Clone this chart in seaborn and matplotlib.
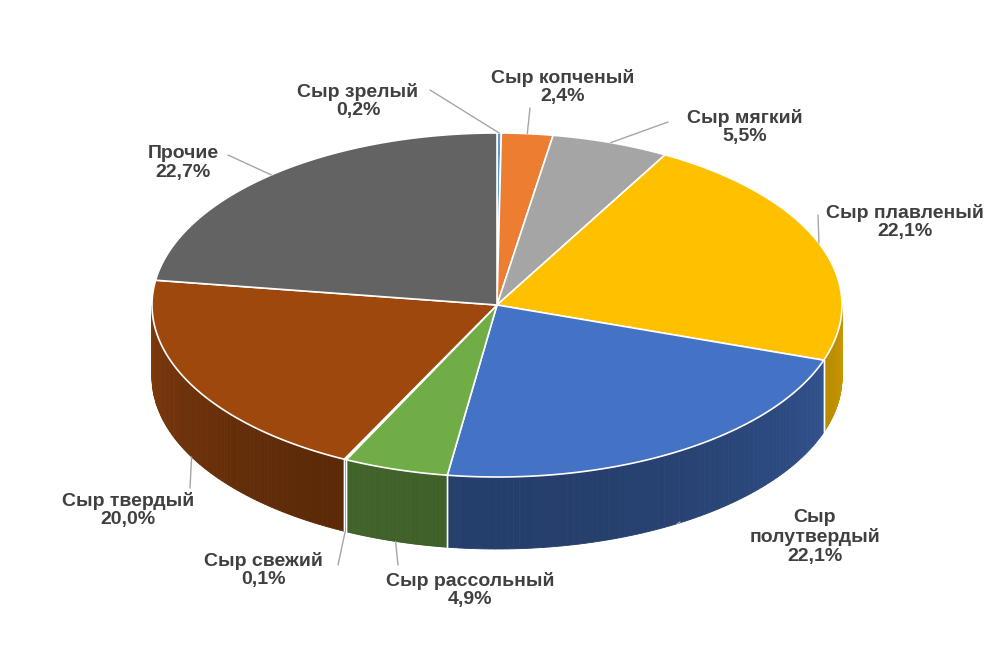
import numpy as np
import matplotlib
matplotlib.use("Agg")
import matplotlib.pyplot as plt
import seaborn as sns
from matplotlib.patches import Polygon
from matplotlib.colors import to_rgb

sns.set_theme(style="white")

categories = ["Сыр зрелый", "Сыр копченый", "Сыр мягкий", "Сыр плавленый", "Сыр\nполутвердый",
              "Сыр рассольный", "Сыр свежий", "Сыр твердый", "Прочие"]
values = [0.2, 2.4, 5.5, 22.1, 22.1, 4.9, 0.1, 20.0, 22.7]
labels = ["0,2%", "2,4%", "5,5%", "22,1%", "22,1%", "4,9%", "0,1%", "20,0%", "22,7%"]
colors = ["#5B9BD5", "#ED7D31", "#A5A5A5", "#FFC000", "#4472C4", "#70AD47", "#264478", "#9E480E", "#636363"]
label_pos = [(358, 101), (563, 87), (745, 127), (905, 222), (815, 537), (470, 590), (263, 570), (128, 510), (183, 163)]
leader_from = [(430, 90), (530, 108), (668, 122), (818, 215), (680, 522), (398, 565), (338, 565), (190, 488), (228, 155)]

cx, cy, rx, ry, depth = 497, 305, 345, 172, 72

fig = plt.figure(figsize=(10, 6.58), dpi=100)
ax = fig.add_axes([0, 0, 1, 1])
ax.set_xlim(0, 1000)
ax.set_ylim(658, 0)
ax.axis("off")

def pt(t, dy=0):
    return cx + rx * np.sin(t), cy - ry * np.cos(t) + dy

total = sum(values)
bounds = np.concatenate([[0], np.cumsum(values)]) / total * 2 * np.pi

# side walls
for i, c in enumerate(colors):
    a, b = max(bounds[i], np.pi / 2), min(bounds[i + 1], 3 * np.pi / 2)
    if b <= a:
        continue
    ts = np.linspace(a, b, 80)
    base = np.array(to_rgb(c))
    # gradient by strips
    for k in range(len(ts) - 1):
        t0, t1 = ts[k], ts[k + 1]
        shade = 0.45 + 0.25 * abs(np.sin((t0 + t1) / 2 - np.pi)) ** 0.5
        col = base * (0.55 + 0.25 * (1 - abs(np.cos((t0 + t1) / 2 - np.pi))))
        p = [pt(t0), pt(t1), pt(t1, depth), pt(t0, depth)]
        ax.add_patch(Polygon(p, closed=True, facecolor=col, edgecolor=col, lw=0.6))
    for t in (a, b):
        if t in (bounds[i], bounds[i + 1]):
            ax.plot(*zip(pt(t), pt(t, depth)), color="white", lw=1)

# top
for i, c in enumerate(colors):
    ts = np.linspace(bounds[i], bounds[i + 1], 200)
    p = [(cx, cy)] + [pt(t) for t in ts]
    ax.add_patch(Polygon(p, closed=True, facecolor=c, edgecolor="white", lw=1.2))

# labels
for i in range(len(values)):
    mid = (bounds[i] + bounds[i + 1]) / 2
    ex, ey = pt(mid, depth if np.pi / 2 < mid < 3 * np.pi / 2 else 0)
    lx, ly = leader_from[i]
    ax.plot([lx, ex], [ly, ey], color="#A6A6A6", lw=1)
    tx, ty = label_pos[i]
    ax.text(tx, ty, categories[i] + "\n" + labels[i], ha="center", va="center",
            fontsize=14, fontweight="bold", color="#404040", family="Liberation Sans",
            linespacing=1.15)

fig.savefig("out.png", dpi=100, facecolor="white")
